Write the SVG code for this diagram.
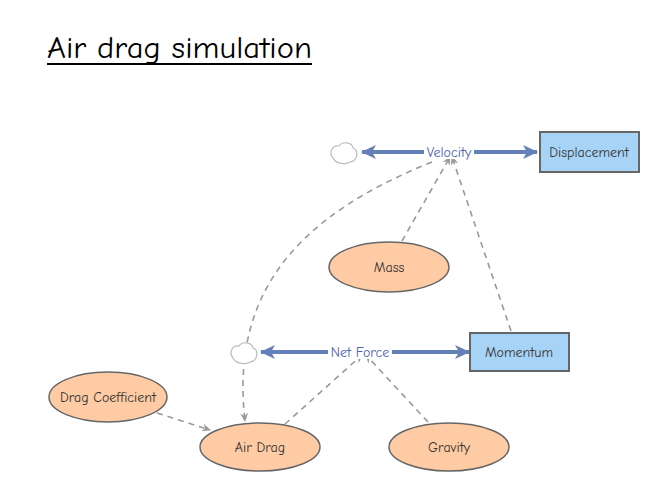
<svg xmlns="http://www.w3.org/2000/svg" width="668" height="494" viewBox="0 0 668 494">
<style>
text{font-family:"Comic Neue","DejaVu Sans",sans-serif;font-size:14px;fill:#333;text-anchor:middle;dominant-baseline:central}
.st{fill:#a7d3f7;stroke:#666;stroke-width:2}
.aux{fill:#ffcba4;stroke:#666;stroke-width:1.5}
.flow{stroke:#6480b8;stroke-width:4;fill:none}
.dep{stroke:#999;stroke-width:1.6;stroke-dasharray:6 5;fill:none;marker-end:url(#ah)}
.cloud{fill:#fff;stroke:#bbb;stroke-width:1.2}
</style>
<defs>
<marker id="ah" markerWidth="10" markerHeight="10" refX="8" refY="5" orient="auto" markerUnits="userSpaceOnUse"><path d="M0,1 L9,5 L0,9 L3,5 Z" fill="#999"/></marker>
<marker id="fa" markerWidth="16" markerHeight="16" refX="14" refY="8" orient="auto" markerUnits="userSpaceOnUse"><path d="M0,1 L15,8 L0,15 L4,8 Z" fill="#6480b8"/></marker>
</defs>
<text x="47" y="48" textLength="265" lengthAdjust="spacingAndGlyphs" style="font-size:30px;text-anchor:start;fill:#000">Air drag simulation</text>
<line x1="47" y1="64" x2="312" y2="64" stroke="#000" stroke-width="1.8"/>
<g id="connectors">
<path class="dep" d="M402,241 L450,157"/>
<path class="dep" d="M511,331 L452,157"/>
<path class="dep" d="M432,162 C300,215 230,290 245,421"/>
<path class="dep" d="M157,413 L210,430"/>
<path class="dep" d="M285,424 L362,355"/>
<path class="dep" d="M428,422 L366,355"/>
</g>
<g id="cloud1"><path class="cloud" d="M333,158 C328,152 333,145 339,146 C342,141 352,142 353,148 C359,150 358,161 350,162 C346,165 336,164 333,158 Z"/></g>
<g id="cloud2"><path class="cloud" d="M233,358 C228,352 233,345 239,346 C242,341 252,342 253,348 C259,350 258,361 250,362 C246,365 236,364 233,358 Z"/></g>
<g id="velocity">
<line class="flow" x1="537" y1="152" x2="362" y2="152" marker-end="url(#fa)"/>
<line class="flow" x1="362" y1="152" x2="537" y2="152" marker-end="url(#fa)"/>
<rect x="424" y="145" width="50" height="14" fill="#fff"/>
<text x="449" y="152" style="fill:#4d64a8">Velocity</text>
</g>
<g id="netforce">
<line class="flow" x1="469" y1="352" x2="261" y2="352" marker-end="url(#fa)"/>
<line class="flow" x1="261" y1="352" x2="469" y2="352" marker-end="url(#fa)"/>
<rect x="328" y="345" width="64" height="14" fill="#fff"/>
<text x="360" y="352" style="fill:#4d64a8">Net Force</text>
</g>
<g id="displacement"><rect class="st" x="540" y="132" width="99" height="40"/><text x="589" y="152">Displacement</text></g>
<g id="momentum"><rect class="st" x="470" y="333" width="99" height="38"/><text x="519" y="352">Momentum</text></g>
<g id="mass"><ellipse class="aux" cx="389" cy="267" rx="60" ry="25"/><text x="389" y="267">Mass</text></g>
<g id="dragcoef"><ellipse class="aux" cx="108" cy="397" rx="59" ry="25"/><text x="108" y="397">Drag Coefficient</text></g>
<g id="airdrag"><ellipse class="aux" cx="260" cy="447" rx="60" ry="24"/><text x="260" y="447">Air Drag</text></g>
<g id="gravity"><ellipse class="aux" cx="449" cy="447" rx="60" ry="24"/><text x="449" y="447">Gravity</text></g>
</svg>
